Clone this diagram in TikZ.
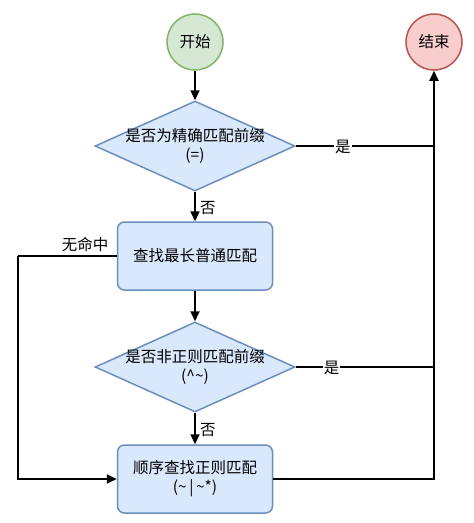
\documentclass[tikz,border=0pt]{standalone}
\usepackage{fontspec}
\setmainfont{Noto Sans CJK SC}
\usepackage{xcolor}
\definecolor{startfill}{HTML}{D5E8D4}
\definecolor{startline}{HTML}{82B366}
\definecolor{endfill}{HTML}{F8CECC}
\definecolor{endline}{HTML}{B85450}
\definecolor{stepfill}{HTML}{DAE8FC}
\definecolor{stepline}{HTML}{6C8EBF}
\usetikzlibrary{positioning,shapes.geometric,arrows.meta}

\begin{document}
\begin{tikzpicture}[
  x=1pt, y=-1pt,
  font=\fontsize{15.5}{19}\selectfont,
  terminal/.style={circle, draw, line width=1.5pt, minimum size=56pt, inner sep=0pt},
  decision/.style={diamond, draw=stepline, fill=stepfill, line width=1.5pt, align=center,
                   aspect=2.2, minimum width=200pt, minimum height=90pt, inner sep=-12pt},
  stepbox/.style={draw=stepline, fill=stepfill, line width=1.5pt, rounded corners=7pt,
                  align=center, minimum width=155pt, minimum height=68pt},
  link/.style={-{Triangle[length=10pt,width=9pt]}, line width=1.8pt},
  plain/.style={line width=1.8pt},
  lbl/.style={fill=white, inner sep=1pt}
]
  \useasboundingbox (0,0) rectangle (474,523);

  \node[terminal, draw=startline, fill=startfill] (start) at (195,42) {开始};
  \node[terminal, draw=endline, fill=endfill]     (stop)  at (434,42) {结束};

  \node[decision] (exact) at (195,146) {是否为精确匹配前缀\\(=)};
  \node[stepbox]  (longest) at (195,256) {查找最长普通匹配};
  \node[decision] (noreg) at (195,367) {是否非正则匹配前缀\\(\textasciicircum\textasciitilde)};
  \node[stepbox]  (regex) at (195,479) {顺序查找正则匹配\\(\textasciitilde\,|\,\textasciitilde*)};

  \coordinate (j1) at (434,146);
  \coordinate (j2) at (434,367);
  \coordinate (j3) at (434,479);
  \coordinate (w1) at (18,256);
  \coordinate (w2) at (18,479);

  \draw[link] (start) -- (exact);
  \draw[link] (exact) -- node[right, xshift=1pt, yshift=-2pt] {否} (longest);
  \draw[link] (longest) -- (noreg);
  \draw[link] (noreg) -- node[right, xshift=1pt, yshift=-2pt] {否} (regex);

  \draw[plain] (exact.east) -- node[lbl, pos=0.34, yshift=-1pt] {是} (j1);
  \draw[plain] (noreg.east) -- node[lbl, pos=0.26, yshift=-1pt] {是} (j2);
  \draw[link] (regex.east) -- (j3) -- (stop);

  \draw[plain] (longest.west) -- node[above, pos=0.32] {无命中} (w1);
  \draw[link] (w1) -- (w2) -- (regex.west);
\end{tikzpicture}
\end{document}
